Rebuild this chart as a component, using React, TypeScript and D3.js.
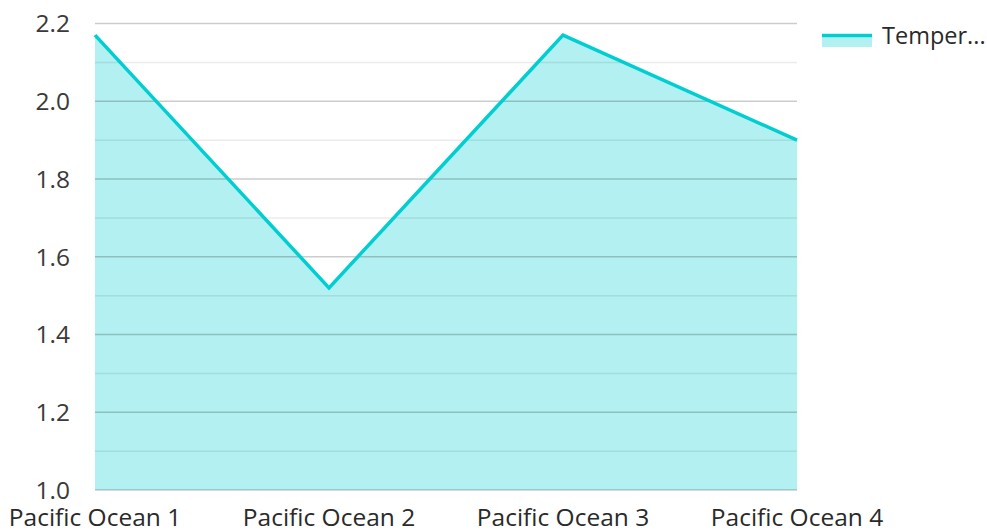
import React from "react";
import * as d3 from "d3";

const categories = ["Pacific Ocean 1", "Pacific Ocean 2", "Pacific Ocean 3", "Pacific Ocean 4"];
const temperature = [2.17, 1.52, 2.17, 1.9];
const majorTicks = [1.0, 1.2, 1.4, 1.6, 1.8, 2.0, 2.2];
const minorTicks = [1.1, 1.3, 1.5, 1.7, 1.9, 2.1];
const seriesName = "Temper...";

const W = 987;
const H = 531;
const LINE = "#00CED1";
const FONT = "'Open Sans', 'Noto Sans', sans-serif";

export default function App() {
  const x = d3.scalePoint<string>().domain(categories).range([95, 797]).padding(0);
  const y = d3.scaleLinear().domain([1.0, 2.2]).range([490, 23.5]);
  const data = categories.map((c, i) => ({ c, v: temperature[i] }));
  const line = d3.line<{ c: string; v: number }>().x(d => x(d.c)!).y(d => y(d.v));
  const area = d3
    .area<{ c: string; v: number }>()
    .x(d => x(d.c)!)
    .y0(y(1.0))
    .y1(d => y(d.v));

  return (
    <svg width={W} height={H} style={{ position: "absolute", left: 0, top: 0 }} fontFamily={FONT}>
      <path d={area(data)!} fill={LINE} fillOpacity={0.3} />
      {minorTicks.map(t => (
        <line key={"m" + t} x1={95} x2={797} y1={y(t)} y2={y(t)} stroke="rgba(0,0,0,0.08)" strokeWidth={1.5} />
      ))}
      {majorTicks.map(t => (
        <line key={"M" + t} x1={95} x2={797} y1={y(t)} y2={y(t)} stroke="rgba(0,0,0,0.2)" strokeWidth={1.5} />
      ))}
      <path d={line(data)!} fill="none" stroke={LINE} strokeWidth={3.5} strokeLinejoin="miter" />
      {majorTicks.map(t => (
        <text key={"t" + t} x={70} y={y(t)} dy="0.36em" textAnchor="end" fontSize={24.5} fill="#3a3a3a">
          {t.toFixed(1)}
        </text>
      ))}
      {categories.map(c => (
        <text key={c} x={x(c)!} y={526} textAnchor="middle" fontSize={24.5} fill="#2a2a2a">
          {c}
        </text>
      ))}
      <rect x={822} y={35} width={50} height={12} fill={LINE} fillOpacity={0.3} />
      <line x1={822} x2={872} y1={35.5} y2={35.5} stroke={LINE} strokeWidth={3.5} />
      <text x={882} y={44} fontSize={23.5} fill="#2a2a2a">
        {seriesName}
      </text>
    </svg>
  );
}
